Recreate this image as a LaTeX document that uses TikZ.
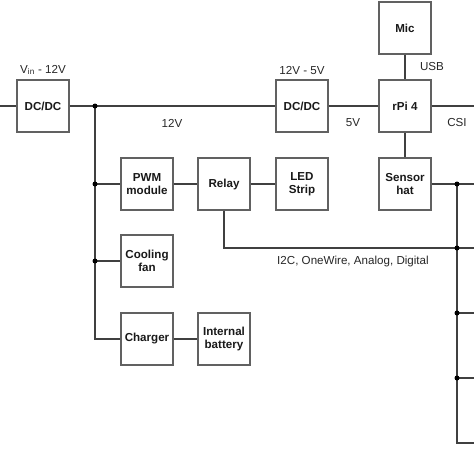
\documentclass[tikz,border=0pt]{standalone}
\usepackage{fontspec}
\setmainfont{Liberation Sans}
\begin{document}
\begin{tikzpicture}[x=1pt,y=-1pt,
  wire/.style={draw=black!75,line width=1.4pt},
  blk/.style={draw=black!62,line width=1.1pt,rectangle,minimum width=52pt,minimum height=52pt,inner sep=0pt,align=center,font=\fontsize{11.6}{13}\selectfont\bfseries,text=black!90},
  lbl/.style={font=\fontsize{11.6}{13}\selectfont,text=black!85,inner sep=0pt},
  dot/.style={circle,fill=black,inner sep=0pt,minimum size=5pt}]
\useasboundingbox (0,0) rectangle (474,474);
% blocks
\node[blk] (dc1) at (43,106) {DC/DC};
\node[blk] (dc2) at (302,106) {DC/DC};
\node[blk] (mic) at (405,28) {Mic};
\node[blk] (rpi) at (405,106) {rPi 4};
\node[blk] (pwm) at (147,184) {PWM\\module};
\node[blk] (relay) at (224,184) {Relay};
\node[blk] (led) at (302,184) {LED\\Strip};
\node[blk] (sens) at (405,184) {Sensor\\hat};
\node[blk] (fan) at (147,261) {Cooling\\fan};
\node[blk] (chg) at (147,339) {Charger};
\node[blk] (bat) at (224,339) {Internal\\battery};
% coordinates
\coordinate (vin) at (0,106);
\coordinate (j1) at (95,106);
\coordinate (j2) at (95,184);
\coordinate (j3) at (95,261);
\coordinate (j4) at (95,339);
\coordinate (csi) at (474,106);
\coordinate (r1) at (224,248);
\coordinate (b1) at (457,184);
\coordinate (b2) at (457,248);
\coordinate (b3) at (457,313);
\coordinate (b4) at (457,378);
\coordinate (b5) at (457,443);
\coordinate (e1) at (474,184);
\coordinate (e2) at (474,248);
\coordinate (e3) at (474,313);
\coordinate (e4) at (474,378);
\coordinate (e5) at (474,443);
% wires
\draw[wire] (vin) -- (dc1);
\draw[wire] (dc1) -- (dc2);
\draw[wire] (dc2) -- (rpi);
\draw[wire] (rpi) -- (csi);
\draw[wire] (mic) -- (rpi);
\draw[wire] (rpi) -- (sens);
\draw[wire] (sens) -- (e1);
\draw[wire] (j1) -- (j4) -- (chg);
\draw[wire] (j2) -- (pwm);
\draw[wire] (pwm) -- (relay);
\draw[wire] (relay) -- (led);
\draw[wire] (j3) -- (fan);
\draw[wire] (chg) -- (bat);
\draw[wire] (relay.south) -- (r1) -- (e2);
\draw[wire] (b1) -- (b5) -- (e5);
\draw[wire] (b3) -- (e3);
\draw[wire] (b4) -- (e4);
% dots
\foreach \p in {j1,j2,j3,b1,b2,b3,b4} \node[dot] at (\p) {};
% labels
\node[lbl] (lvin) at (43,70) {V\textsubscript{in} - 12V};
\node[lbl] (l12) at (172,123) {12V};
\node[lbl] (l125) at (302,71) {12V - 5V};
\node[lbl] (l5) at (353,123) {5V};
\node[lbl] (lusb) at (432,67) {USB};
\node[lbl] (lcsi) at (457,123) {CSI};
\node[lbl] (lbus) at (353,261) {I2C, OneWire, Analog, Digital};
\end{tikzpicture}
\end{document}
